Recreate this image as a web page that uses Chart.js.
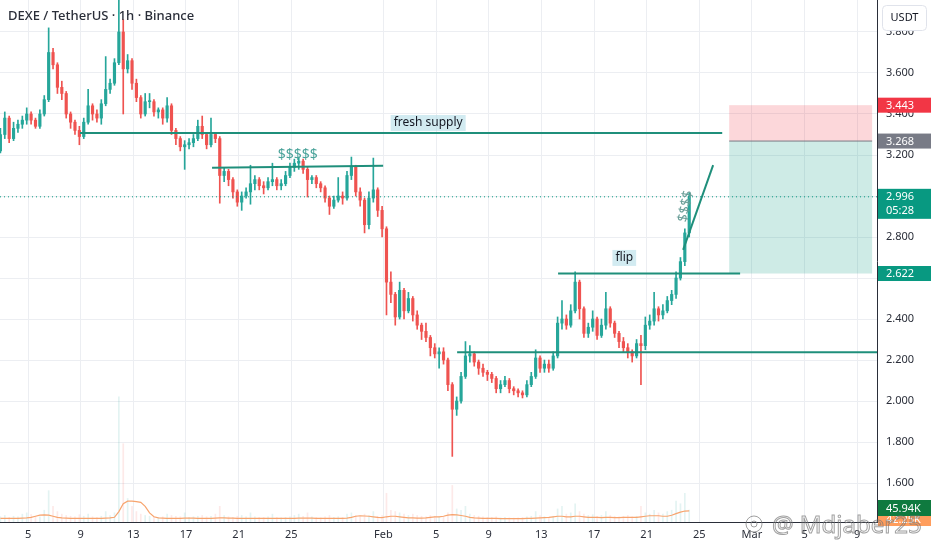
<!DOCTYPE html>
<html>
<head>
<meta charset="utf-8">
<title>DEXE / TetherUS 1h</title>
<script src="https://cdn.jsdelivr.net/npm/chart.js@4.4.1/dist/chart.umd.min.js"></script>
<style>
  html, body { margin: 0; padding: 0; background: #fff; }
  #wrap { width: 932px; height: 550px; position: relative; }
</style>
</head>
<body>
<div id="wrap"><canvas id="myChart"></canvas></div>
<script>
// 8h candles, day numbers counted from Jan 1 = 1
const startDay = 2.9;
const stepDay = 1 / 3;
const firstOpen = 3.22;

const closes = [
  3.30, 3.38, 3.28, 3.33, 3.35, 3.37, 3.40, 3.37, 3.34, 3.40,
  3.47, 3.70, 3.64, 3.53, 3.50, 3.40, 3.36, 3.32, 3.29, 3.36,
  3.44, 3.40, 3.38, 3.45, 3.52, 3.55, 3.65, 3.80, 3.62, 3.66,
  3.55, 3.48, 3.40, 3.46, 3.46, 3.41, 3.42, 3.38, 3.44, 3.32,
  3.28, 3.24, 3.25, 3.26, 3.28, 3.34, 3.30, 3.25, 3.30, 3.28,
  3.10, 3.12, 3.08, 3.02, 2.97, 3.00, 3.02, 3.06, 3.08, 3.05,
  3.04, 3.07, 3.08, 3.05, 3.06, 3.10, 3.14, 3.16, 3.17, 3.13,
  3.08, 3.09, 3.06, 3.04, 2.99, 2.95, 2.98, 3.00, 2.99, 3.10,
  3.14, 3.02, 2.98, 2.86, 2.99, 3.03, 2.93, 2.84, 2.58, 2.52,
  2.41, 2.54, 2.44, 2.50, 2.42, 2.37, 2.34, 2.31, 2.26, 2.23,
  2.24, 2.20, 2.08, 1.96, 2.00, 2.12, 2.22, 2.23, 2.19, 2.16,
  2.14, 2.13, 2.11, 2.06, 2.08, 2.10, 2.06, 2.05, 2.04, 2.03,
  2.08, 2.12, 2.21, 2.16, 2.18, 2.16, 2.22, 2.38, 2.40, 2.37,
  2.44, 2.58, 2.45, 2.33, 2.36, 2.40, 2.32, 2.37, 2.45, 2.38,
  2.33, 2.29, 2.26, 2.24, 2.22, 2.28, 2.27, 2.37, 2.39, 2.45,
  2.42, 2.44, 2.49, 2.52, 2.60, 2.68, 2.82, 2.996
];
const highs = [
  3.33, 3.41, 3.39, 3.36, 3.37, 3.39, 3.43, 3.41, 3.38, 3.42,
  3.49, 3.82, 3.72, 3.65, 3.56, 3.51, 3.41, 3.37, 3.34, 3.38,
  3.52, 3.45, 3.42, 3.47, 3.68, 3.57, 3.67, 3.96, 3.86, 3.69,
  3.67, 3.57, 3.49, 3.50, 3.50, 3.47, 3.43, 3.43, 3.48, 3.45,
  3.33, 3.29, 3.27, 3.28, 3.30, 3.37, 3.39, 3.31, 3.38, 3.31,
  3.29, 3.14, 3.13, 3.09, 3.03, 3.02, 3.04, 3.15, 3.10, 3.09,
  3.07, 3.09, 3.16, 3.09, 3.08, 3.12, 3.16, 3.18, 3.19, 3.18,
  3.14, 3.10, 3.10, 3.07, 3.05, 3.00, 3.00, 3.09, 3.02, 3.12,
  3.19, 3.15, 3.04, 2.99, 3.02, 3.185, 3.04, 2.95, 2.85, 2.63,
  2.53, 2.58, 2.55, 2.53, 2.51, 2.44, 2.38, 2.38, 2.32, 2.28,
  2.26, 2.26, 2.21, 2.09, 2.02, 2.14, 2.29, 2.27, 2.24, 2.20,
  2.18, 2.15, 2.14, 2.12, 2.10, 2.12, 2.11, 2.07, 2.06, 2.05,
  2.10, 2.14, 2.25, 2.22, 2.20, 2.20, 2.24, 2.41, 2.49, 2.42,
  2.47, 2.63, 2.59, 2.46, 2.38, 2.44, 2.41, 2.40, 2.53, 2.46,
  2.39, 2.34, 2.31, 2.28, 2.25, 2.30, 2.32, 2.41, 2.42, 2.53,
  2.46, 2.47, 2.51, 2.54, 2.63, 2.70, 2.84, 3.015
];
const lows = [
  3.21, 3.28, 3.26, 3.27, 3.31, 3.33, 3.35, 3.35, 3.33, 3.33,
  3.39, 3.46, 3.62, 3.50, 3.47, 3.38, 3.33, 3.30, 3.25, 3.28,
  3.35, 3.37, 3.36, 3.35, 3.44, 3.50, 3.54, 3.64, 3.40, 3.60,
  3.52, 3.46, 3.38, 3.39, 3.43, 3.39, 3.38, 3.35, 3.36, 3.30,
  3.25, 3.22, 3.13, 3.23, 3.24, 3.27, 3.28, 3.23, 3.24, 3.26,
  2.965, 3.07, 3.05, 2.99, 2.95, 2.93, 2.99, 2.96, 3.03, 3.03,
  3.01, 3.03, 3.05, 3.03, 3.03, 3.05, 3.09, 3.12, 3.13, 3.11,
  2.995, 3.06, 3.04, 3.02, 2.97, 2.91, 2.94, 2.97, 2.96, 2.98,
  3.08, 3.00, 2.95, 2.82, 2.84, 2.97, 2.90, 2.80, 2.42, 2.48,
  2.37, 2.40, 2.40, 2.43, 2.39, 2.35, 2.30, 2.29, 2.22, 2.21,
  2.16, 2.18, 2.05, 1.73, 1.93, 1.99, 2.11, 2.19, 2.17, 2.13,
  2.12, 2.10, 2.09, 2.04, 2.04, 2.07, 2.04, 2.03, 2.02, 2.015,
  2.02, 2.07, 2.11, 2.14, 2.14, 2.14, 2.15, 2.21, 2.35, 2.35,
  2.36, 2.43, 2.40, 2.31, 2.31, 2.34, 2.30, 2.31, 2.35, 2.36,
  2.31, 2.26, 2.24, 2.21, 2.19, 2.21, 2.08, 2.25, 2.35, 2.37,
  2.39, 2.40, 2.43, 2.47, 2.50, 2.59, 2.66, 2.80
];
// volume in thousands of DEXE
const volumes = [
  20, 25, 18, 22, 20, 30, 35, 28, 22, 20,
  45, 120, 60, 40, 30, 25, 22, 20, 28, 22,
  30, 20, 18, 22, 40, 25, 35, 480, 300, 90,
  60, 40, 30, 25, 22, 20, 18, 20, 30, 25,
  22, 20, 35, 18, 20, 22, 25, 20, 22, 30,
  60, 25, 20, 18, 22, 25, 20, 35, 20, 18,
  18, 20, 30, 18, 16, 18, 20, 25, 30, 22,
  35, 20, 18, 16, 20, 25, 18, 20, 18, 30,
  35, 25, 20, 30, 25, 40, 22, 25, 110, 45,
  40, 35, 30, 25, 30, 25, 22, 20, 25, 22,
  20, 22, 35, 140, 50, 45, 60, 30, 25, 22,
  20, 18, 18, 20, 16, 18, 16, 15, 16, 18,
  20, 22, 40, 25, 20, 18, 22, 50, 60, 30,
  35, 70, 40, 30, 25, 28, 22, 25, 40, 25,
  22, 20, 22, 25, 20, 22, 60, 35, 30, 45,
  35, 30, 40, 45, 80, 70, 110, 45.94
];
const volumeMA = [
  14, 14, 14, 14, 14, 15, 16, 18, 22, 26,
  27, 26, 22, 18, 16, 15, 14, 14, 14, 14,
  14, 14, 14, 14, 15, 16, 18, 40, 70, 80,
  80, 78, 75, 60, 35, 20, 16, 15, 14, 14,
  14, 14, 15, 15, 15, 14, 14, 14, 14, 15,
  16, 16, 15, 15, 14, 14, 14, 14, 14, 14,
  14, 14, 14, 14, 14, 14, 14, 14, 15, 15,
  15, 15, 14, 14, 14, 14, 14, 14, 14, 15,
  18, 22, 24, 23, 22, 20, 18, 17, 20, 22,
  22, 20, 18, 16, 16, 15, 15, 16, 18, 20,
  20, 22, 26, 28, 27, 25, 22, 18, 16, 15,
  14, 14, 14, 14, 13, 13, 13, 13, 13, 13,
  14, 14, 15, 16, 17, 18, 20, 22, 22, 20,
  20, 22, 22, 20, 18, 18, 18, 17, 18, 18,
  17, 17, 18, 18, 18, 18, 20, 22, 24, 24,
  24, 22, 22, 26, 32, 38, 42, 42.25
];

const xTickDays = [5, 9, 13, 17, 21, 25, 32, 36, 40, 44, 48, 52, 56, 60, 64, 68];
const xTickLabels = ["5", "9", "13", "17", "21", "25", "Feb", "5", "9", "13", "17", "21", "25", "Mar", "5", "9"];
const priceTicks = [1.6, 1.8, 2.0, 2.2, 2.4, 2.6, 2.8, 3.0, 3.2, 3.4, 3.6, 3.8];

// drawings on the chart (day, price)
const freshSupply = { from: 8.95, to: 57.74, price: 3.307 };
const sweepLine = { from: 18.98, to: 31.98, prices: [3.138, 3.148] };
const supportLine = { from: 37.6, to: 69.5, price: 2.238 };
const flipLine = { from: 45.27, to: 59.1, price: 2.622 };
const trendLine = { days: [54.77, 57.05], prices: [2.737, 3.151] };
const position = { from: 58.27, to: 69.13, stop: 3.443, entry: 3.268, target: 2.622 };
const lastPrice = 2.996;
const lastVolume = "45.94K";
const lastVolumeMA = "42.25K";
const countdown = "05:28";

const FONT = "'Noto Sans', 'DejaVu Sans', sans-serif";
const upColor = "#26a69a";
const downColor = "#ef5350";
const drawColor = "#1f8f7b";

const days = closes.map((c, i) => startDay + i * stepDay);
const opens = closes.map((c, i) => (i === 0 ? firstOpen : closes[i - 1]));
const candleColors = closes.map((c, i) => (c >= opens[i] ? upColor : downColor));
const volColors = closes.map((c, i) => (c >= opens[i] ? "rgba(38,166,154,0.13)" : "rgba(239,83,80,0.13)"));

function segment(xs, ys, color, width, dash) {
  return {
    type: "line",
    data: [{ x: xs[0], y: ys[0] }, { x: xs[1], y: ys[1] }],
    borderColor: color,
    borderWidth: width,
    borderDash: dash || [],
    pointRadius: 0,
    order: 0
  };
}

function tag(ctx, text, yMid, bg, h) {
  ctx.fillStyle = bg;
  ctx.fillRect(878, yMid - h / 2, 53, h);
  ctx.fillStyle = "#fff";
  ctx.font = "11px " + FONT;
  ctx.textAlign = "left";
  ctx.textBaseline = "middle";
  ctx.fillText(text, 886, yMid + 0.5);
}

function noteBox(ctx, text, cx, cy) {
  ctx.font = "12px " + FONT;
  const w = ctx.measureText(text).width;
  ctx.fillStyle = "rgba(180,222,232,0.6)";
  ctx.fillRect(cx - w / 2 - 3, cy - 8, w + 6, 16);
  ctx.fillStyle = "#131722";
  ctx.textAlign = "center";
  ctx.textBaseline = "middle";
  ctx.fillText(text, cx, cy);
}

function noPadding(s) {
  s.paddingTop = 0;
  s.paddingBottom = 0;
  s.paddingLeft = 0;
  s.paddingRight = 0;
}

const overlay = {
  id: "overlay",
  beforeDatasetsDraw(chart) {
    const { ctx, scales: { x, y } } = chart;
    const x1 = x.getPixelForValue(position.from);
    const x2 = x.getPixelForValue(position.to);
    const yStop = y.getPixelForValue(position.stop);
    const yEntry = y.getPixelForValue(position.entry);
    const yTarget = y.getPixelForValue(position.target);
    ctx.save();
    ctx.fillStyle = "rgba(242,54,69,0.2)";
    ctx.fillRect(x1, yStop, x2 - x1, yEntry - yStop);
    ctx.fillStyle = "rgba(8,153,129,0.2)";
    ctx.fillRect(x1, yEntry, x2 - x1, yTarget - yEntry);
    ctx.strokeStyle = "#787b86";
    ctx.lineWidth = 1;
    ctx.beginPath();
    ctx.moveTo(x1, yEntry);
    ctx.lineTo(x2, yEntry);
    ctx.stroke();
    ctx.restore();
  },
  afterDraw(chart) {
    const { ctx, scales: { x, y, yv } } = chart;
    ctx.save();

    // notes on the drawings
    noteBox(ctx, "fresh supply", x.getPixelForValue(35.4), y.getPixelForValue(3.356));
    noteBox(ctx, "flip", x.getPixelForValue(50.3), y.getPixelForValue(2.698));
    ctx.fillStyle = "#4aa39a";
    ctx.font = "14px " + FONT;
    ctx.textAlign = "center";
    ctx.textBaseline = "middle";
    ctx.fillText("$$$$$", x.getPixelForValue(25.5), y.getPixelForValue(3.2));
    ctx.save();
    ctx.translate(x.getPixelForValue(54.95), y.getPixelForValue(2.95));
    ctx.rotate(-Math.PI * 0.44);
    ctx.fillStyle = "#6a9e98";
    ctx.font = "14px " + FONT;
    ctx.fillText("$$$$", 0, 0);
    ctx.restore();

    // title
    ctx.fillStyle = "#2a2e39";
    ctx.font = "500 13px " + FONT;
    ctx.textAlign = "left";
    ctx.textBaseline = "middle";
    ctx.fillText("DEXE / TetherUS · 1h · Binance", 8, 16);

    // price scale tags
    tag(ctx, position.stop.toFixed(3), y.getPixelForValue(position.stop), "#f23645", 15);
    tag(ctx, position.entry.toFixed(3), y.getPixelForValue(position.entry), "#787b86", 15);
    tag(ctx, position.target.toFixed(3), y.getPixelForValue(position.target), "#089981", 15);
    const yLast = y.getPixelForValue(lastPrice);
    ctx.fillStyle = "#089981";
    ctx.fillRect(878, yLast - 8, 53, 30);
    ctx.fillStyle = "#fff";
    ctx.font = "11px " + FONT;
    ctx.fillText(lastPrice.toFixed(3), 886, yLast);
    ctx.fillText(countdown, 886, yLast + 14);

    const yVol = yv.getPixelForValue(volumes[volumes.length - 1]);
    ctx.fillStyle = "#ff9d5c";
    ctx.fillRect(878, yVol + 4, 53, 12);
    ctx.fillStyle = "#fff";
    ctx.fillText(lastVolumeMA, 886, yVol + 10);
    tag(ctx, lastVolume, yVol - 2, "#0f7a3f", 16);

    // currency box
    ctx.fillStyle = "#fff";
    ctx.strokeStyle = "#e0e3eb";
    ctx.beginPath();
    ctx.roundRect(882.5, 5.5, 44, 25, 4);
    ctx.fill();
    ctx.stroke();
    ctx.fillStyle = "#131722";
    ctx.textAlign = "center";
    ctx.fillText("USDT", 904.5, 18);

    // watermark
    ctx.strokeStyle = "rgba(120,120,120,0.7)";
    ctx.lineWidth = 1;
    ctx.beginPath();
    ctx.arc(754, 524, 8, 0, Math.PI * 2);
    ctx.stroke();
    ctx.beginPath();
    ctx.arc(754, 524, 3, 0, Math.PI * 2);
    ctx.stroke();
    ctx.font = "24px " + FONT;
    ctx.textAlign = "left";
    ctx.textBaseline = "alphabetic";
    ctx.strokeText("@ Mdjaber25", 772, 533);

    ctx.restore();
  }
};

const ctxChart = document.getElementById("myChart").getContext("2d");

const datasets = [
  segment([freshSupply.from, freshSupply.to], [freshSupply.price, freshSupply.price], drawColor, 2),
  segment([sweepLine.from, sweepLine.to], sweepLine.prices, drawColor, 2),
  segment([supportLine.from, supportLine.to], [supportLine.price, supportLine.price], drawColor, 2),
  segment([flipLine.from, flipLine.to], [flipLine.price, flipLine.price], drawColor, 2),
  segment(trendLine.days, trendLine.prices, drawColor, 2),
  segment([2.87, 69.5], [lastPrice, lastPrice], "#089981", 1, [1, 3]),
  {
    type: "bar",
    data: days.map((d, i) => ({ x: d, y: [opens[i], closes[i]] })),
    backgroundColor: candleColors,
    barThickness: 2.5,
    minBarLength: 1,
    grouped: false,
    order: 1
  },
  {
    type: "bar",
    data: days.map((d, i) => ({ x: d, y: [lows[i], highs[i]] })),
    backgroundColor: candleColors,
    barThickness: 1,
    grouped: false,
    order: 2
  },
  {
    type: "line",
    yAxisID: "yv",
    data: days.map((d, i) => ({ x: d, y: volumeMA[i] })),
    borderColor: "#f7a46e",
    borderWidth: 1.2,
    pointRadius: 0,
    order: 4
  },
  {
    type: "bar",
    yAxisID: "yv",
    data: days.map((d, i) => ({ x: d, y: volumes[i] })),
    backgroundColor: volColors,
    barThickness: 1,
    grouped: false,
    order: 5
  }
];

new Chart(ctxChart, {
  type: "bar",
  data: { datasets: datasets },
  options: {
    responsive: true,
    maintainAspectRatio: false,
    animation: false,
    layout: { padding: 0 },
    plugins: { legend: { display: false }, tooltip: { enabled: false } },
    scales: {
      x: {
        type: "linear",
        min: 2.87,
        max: 69.5,
        offset: false,
        afterBuildTicks: (s) => { s.ticks = xTickDays.map((v) => ({ value: v })); },
        afterFit: (s) => { s.height = 28; noPadding(s); },
        ticks: {
          callback: (v, i) => xTickLabels[i],
          autoSkip: false,
          maxRotation: 0,
          padding: 6,
          color: "#2a2e39",
          font: { size: 11, family: FONT }
        },
        grid: { color: "#eceef2", drawTicks: false, offset: false },
        border: { color: "#2a2e39" }
      },
      y: {
        position: "right",
        min: 1.41,
        max: 3.956,
        afterBuildTicks: (s) => { s.ticks = priceTicks.map((v) => ({ value: v })); },
        afterFit: (s) => { s.width = 55; noPadding(s); },
        ticks: {
          callback: (v) => v.toFixed(3),
          padding: 9,
          color: "#2a2e39",
          font: { size: 11, family: FONT }
        },
        grid: { color: "#eceef2", drawTicks: false },
        border: { color: "#2a2e39" }
      },
      yv: { display: false, min: 0, max: 2000 }
    }
  },
  plugins: [overlay]
});
</script>
</body>
</html>
